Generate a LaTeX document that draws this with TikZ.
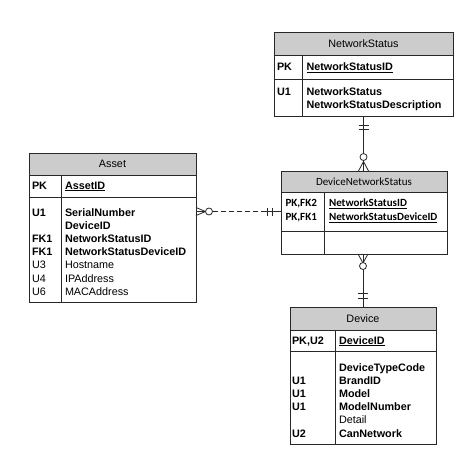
\documentclass[tikz,border=0pt]{standalone}
\usepackage{fontspec}
\setmainfont{Liberation Sans}
\newfontfamily\calfont{Carlito}
\usetikzlibrary{positioning}
\definecolor{headgray}{RGB}{204,204,204}
\definecolor{edgegray}{RGB}{40,40,40}

\begin{document}
\begin{tikzpicture}[x=1pt,y=-1pt,
    every node/.style={inner sep=0pt,outer sep=0pt},
    tbl/.style={draw=edgegray,line width=1pt,anchor=north west},
    head/.style={tbl,fill=headgray,font=\fontsize{10.8}{13.2}\selectfont},
    txt/.style={anchor=base west,align=left,font=\fontsize{10.8}{13.2}\selectfont},
    bold/.style={txt,font=\fontsize{10.8}{13.2}\selectfont\bfseries},
    cal/.style={txt,font=\calfont\fontsize{11}{14}\selectfont\bfseries},
    link/.style={draw=edgegray,line width=0.8pt}]
  \useasboundingbox (0,0) rectangle (474,472);

  % NetworkStatus (lists sit on the baseline of their last line)
  \node[tbl,minimum width=179pt,minimum height=84pt] (ns) at (274,32) {};
  \node[head,minimum width=179pt,minimum height=23pt] (nshead) at (ns.north west) {NetworkStatus};
  \node[tbl,minimum width=179pt,minimum height=24pt] (nspk) at (nshead.south west) {};
  \draw[tbl] ([xshift=28pt]nshead.south west) -- ([xshift=28pt]ns.south west);
  \node[bold] (nspkkey) at (277,70.5) {PK};
  \node[bold] (nspkname) at (306.5,70.5) {\underline{NetworkStatusID}};
  \node[bold] (nskeys) at (277,95.5) {U1};
  \node[bold] (nsattr) at (306.5,108.7) {NetworkStatus\\NetworkStatusDescription};

  % Asset
  \node[tbl,minimum width=167pt,minimum height=149pt] (asset) at (29,153) {};
  \node[head,minimum width=167pt,minimum height=22pt] (assethead) at (asset.north west) {Asset};
  \node[tbl,minimum width=167pt,minimum height=22pt] (assetpk) at (assethead.south west) {};
  \draw[tbl] ([xshift=32pt]assethead.south west) -- ([xshift=32pt]asset.south west);
  \node[bold] (assetpkkey) at (32,189) {PK};
  \node[bold] (assetpkname) at (65,189) {\underline{AssetID}};
  \node[txt] (assetkeys) at (32,295.2) {\textbf{U1}\\\mbox{}\\\textbf{FK1}\\\textbf{FK1}\\U3\\U4\\U6};
  \node[txt] (assetattr) at (65,295.2) {\textbf{SerialNumber}\\\textbf{DeviceID}\\\textbf{NetworkStatusID}\\\textbf{NetworkStatusDeviceID}\\Hostname\\IPAddress\\MACAddress};

  % DeviceNetworkStatus
  \node[tbl,minimum width=166pt,minimum height=83pt] (dns) at (281,171) {};
  \node[head,minimum width=166pt,minimum height=21pt,font=\calfont\fontsize{11}{14}\selectfont] (dnshead) at (dns.north west) {DeviceNetworkStatus};
  \node[tbl,minimum width=166pt,minimum height=39pt] (dnspk) at (dnshead.south west) {};
  \draw[tbl] ([xshift=43pt]dnshead.south west) -- ([xshift=43pt]dns.south west);
  \node[cal] (dnspkkey) at (285.5,220.5) {PK,FK2\\PK,FK1};
  \node[cal] (dnspkname) at (329,220.5) {\underline{NetworkStatusID}\\\underline{NetworkStatusDeviceID}};

  % Device
  \node[tbl,minimum width=146pt,minimum height=137pt] (device) at (290,307) {};
  \node[head,minimum width=146pt,minimum height=23pt] (devicehead) at (device.north west) {Device};
  \node[tbl,minimum width=146pt,minimum height=21pt] (devicepk) at (devicehead.south west) {};
  \draw[tbl] ([xshift=45pt]devicehead.south west) -- ([xshift=45pt]device.south west);
  \node[bold] (devicepkkey) at (292,344) {PK,U2};
  \node[bold] (devicepkname) at (339,344) {\underline{DeviceID}};
  \node[bold] (devicekeys) at (292,437) {U1\\U1\\U1\\\mbox{}\\U2};
  \node[txt] (deviceattr) at (339,437) {\textbf{DeviceTypeCode}\\\textbf{BrandID}\\\textbf{Model}\\\textbf{ModelNumber}\\Detail\\\textbf{CanNetwork}};

  % relationships
  \coordinate (nsend) at (ns.south |- dns.north);
  \coordinate (dnsend) at (dns.south -| device.north);
  \coordinate (assetend) at (asset.east |- dnspk.west);
  \begin{scope}[link]
    \draw (ns.south) -- (nsend);
    \draw ([xshift=-5pt,yshift=-9pt]ns.south) -- ++(10,0);
    \draw ([xshift=-5pt,yshift=-13pt]ns.south) -- ++(10,0);
    \draw ([xshift=-5pt]nsend) -- ([yshift=9.5pt]nsend) -- ([xshift=5pt]nsend);
    \draw[fill=white] ([yshift=14pt]nsend) circle[radius=3.5pt];

    \draw (dnsend) -- (device.north);
    \draw ([xshift=-5pt]dnsend) -- ([yshift=-9pt]dnsend) -- ([xshift=5pt]dnsend);
    \draw[fill=white] ([yshift=-12pt]dnsend) circle[radius=3.5pt];
    \draw ([xshift=-5pt,yshift=14pt]device.north) -- ++(10,0);
    \draw ([xshift=-5pt,yshift=9pt]device.north) -- ++(10,0);

    \draw (assetend) -- ([xshift=9.5pt]assetend);
    \draw ([yshift=4pt]assetend) -- ([xshift=9.5pt]assetend) -- ([yshift=-4pt]assetend);
    \draw[fill=white] ([xshift=13pt]assetend) circle[radius=3.5pt];
    \draw[dash pattern=on 5pt off 3pt] ([xshift=16.5pt]assetend) -- ([xshift=-15pt]dnspk.west);
    \draw ([xshift=-15pt]dnspk.west) -- (dnspk.west);
    \draw ([xshift=-14pt,yshift=4pt]dnspk.west) -- ++(0,8);
    \draw ([xshift=-9pt,yshift=4pt]dnspk.west) -- ++(0,8);
  \end{scope}
\end{tikzpicture}
\end{document}
